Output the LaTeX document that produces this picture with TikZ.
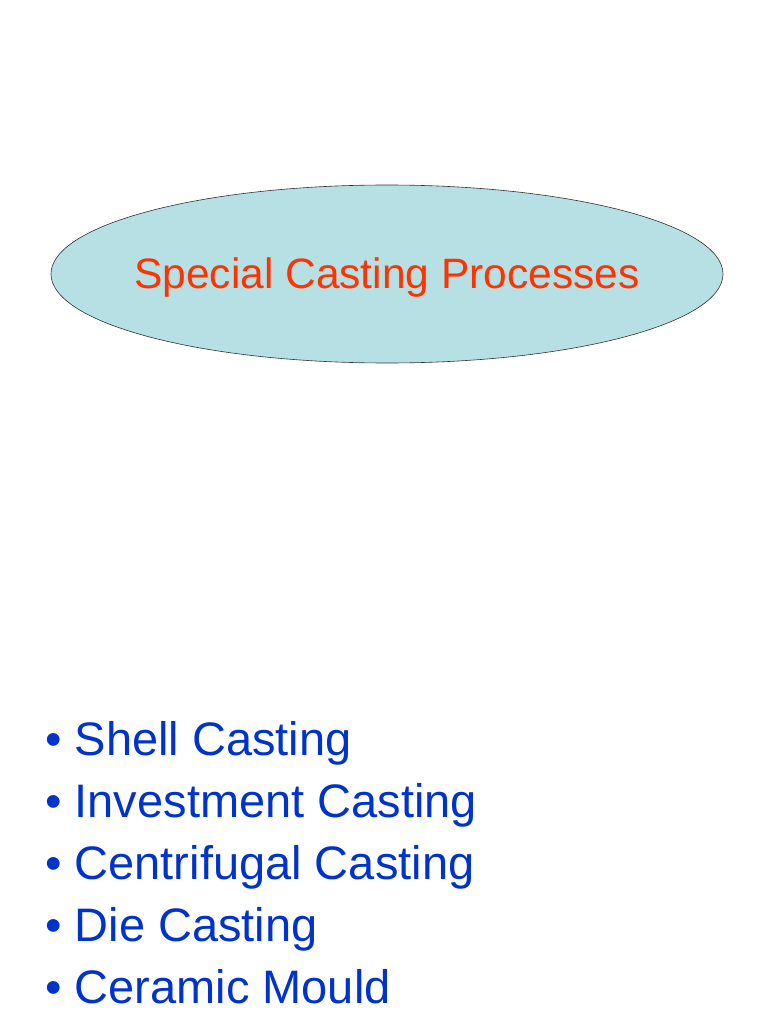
\documentclass[tikz,border=0pt]{standalone}
\usepackage{fontspec}
\setmainfont{Liberation Sans}
\definecolor{ellfill}{RGB}{183,224,228}
\definecolor{titlered}{RGB}{255,51,0}
\definecolor{itemblue}{RGB}{0,51,204}
\begin{document}
\begin{tikzpicture}[x=1pt,y=-1pt,
  item/.style={anchor=base west,inner sep=0pt,text=itemblue,font=\fontsize{47}{52}\selectfont}]
\useasboundingbox (0,0) rectangle (768,1024);
\fill[white] (0,0) rectangle (768,1024);
\draw[fill=ellfill,draw=black!80,line width=0.6pt] (387,274) ellipse [x radius=336, y radius=89];
\node (title) at (387,278) [text=titlered,font=\fontsize{42.5}{48}\selectfont] {Special Casting Processes};
\node (i1) at (45,755) [item] {• Shell Casting};
\node (i2) at (45,817) [item] {• Investment Casting};
\node (i3) at (45,879) [item] {• Centrifugal Casting};
\node (i4) at (45,941) [item] {• Die Casting};
\node (i5) at (45,1003) [item] {• Ceramic Mould};
\end{tikzpicture}
\end{document}
